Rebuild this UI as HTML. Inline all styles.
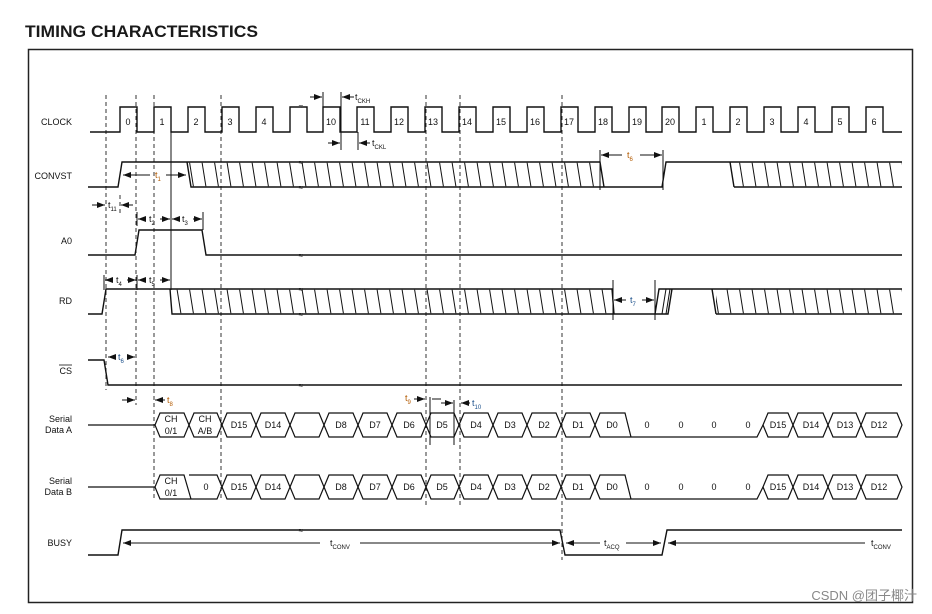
<!DOCTYPE html>
<html><head><meta charset="utf-8"><style>
html,body{margin:0;padding:0;background:#fff;}
svg{display:block;}
text{font-family:"Liberation Sans",Arial,sans-serif;fill:#111;}
</style></head><body>
<svg width="932" height="614" viewBox="0 0 932 614" xmlns="http://www.w3.org/2000/svg">
<defs>
<pattern id="hc" patternUnits="userSpaceOnUse" x="0" y="162" width="12.5" height="25"><line x1="2" y1="0" x2="6" y2="25" stroke="#111" stroke-width="1"/></pattern>
<pattern id="hr" patternUnits="userSpaceOnUse" x="0" y="289" width="12.5" height="25"><line x1="2" y1="0" x2="6" y2="25" stroke="#111" stroke-width="1"/></pattern>
<marker id="a" markerWidth="8" markerHeight="6" refX="8" refY="3" orient="auto"><path d="M0,0 L8,3 L0,6 z" fill="#111"/></marker>
</defs>
<text x="25" y="37" font-size="17" font-weight="bold" textLength="233" lengthAdjust="spacingAndGlyphs" style="fill:#1a1a1a">TIMING CHARACTERISTICS</text>
<rect x="28.5" y="49.5" width="884" height="553" fill="none" stroke="#222" stroke-width="1.5"/>

<g font-size="9" text-anchor="end">
<text x="72" y="125">CLOCK</text>
<text x="72" y="179">CONVST</text>
<text x="72" y="244">A0</text>
<text x="72" y="304">RD</text>
<text x="72" y="374">CS</text>
<line x1="59" y1="365" x2="72" y2="365" stroke="#111" stroke-width="0.8"/>
<text x="72" y="422">Serial</text><text x="72" y="433">Data A</text>
<text x="72" y="484">Serial</text><text x="72" y="495">Data B</text>
<text x="72" y="546">BUSY</text>
</g>

<g stroke="#333" stroke-width="1" stroke-dasharray="4,3">
<line x1="106" y1="95" x2="106" y2="390"/>
<line x1="136" y1="95" x2="136" y2="405"/>
<line x1="154" y1="95" x2="154" y2="500"/>
<line x1="221" y1="95" x2="221" y2="500"/>
<line x1="426" y1="95" x2="426" y2="505"/>
<line x1="460" y1="95" x2="460" y2="505"/>
<line x1="562" y1="95" x2="562" y2="560"/>
<line x1="120" y1="195" x2="120" y2="215"/>
</g>
<line x1="171" y1="120" x2="171" y2="290" stroke="#111"/>

<rect x="187" y="162.7" width="413" height="23.6" fill="url(#hc)"/>
<rect x="734" y="162.7" width="168" height="23.6" fill="url(#hc)"/>
<rect x="172" y="289.7" width="440" height="23.6" fill="url(#hr)"/>
<rect x="716" y="289.7" width="186" height="23.6" fill="url(#hr)"/>

<g fill="none" stroke="#111" stroke-width="1.4">
<path d="M90,132 H120 V107 H137 V132 H154 V107 H171 V132 H188 V107 H205 V132 H222 V107 H239 V132 H256 V107 H273 V132 H290 V107 H307 V132 H323 V107 H340 V132 H357 V107 H374 V132 H391 V107 H408 V132 H425 V107 H442 V132 H459 V107 H476 V132 H493 V107 H510 V132 H527 V107 H544 V132 H561 V107 H578 V132 H595 V107 H612 V132 H629 V107 H646 V132 H662 V107 H679 V132 H696 V107 H713 V132 H730 V107 H747 V132 H764 V107 H781 V132 H798 V107 H815 V132 H832 V107 H849 V132 H866 V107 H883 V132 H902"/>
<path d="M88,187 H118 L122,162 H600 L604,187 H191 L187,162 M604,187 H662 L666,162 H902 M734,187 H902 M730,162 L734,187"/>
<path d="M88,255 H135 L139,230 H202 L206,255 H902"/>
<path d="M88,314 H102 L106,289 H612 L614,314 H172 L170,289 M614,314 H655 L659,289 H902 M716,314 H902 M712,289 L716,314 M655,314 H668 L672,289"/>
<path d="M88,360 H104 L108,385 H902"/>
<path d="M88,555 H118 L122,530 H560 L565,555 H662 L667,530 H902"/>
</g>
<line x1="662" y1="314" x2="666" y2="289" stroke="#111"/>
<line x1="666" y1="314" x2="670" y2="289" stroke="#111"/>

<g font-size="9" text-anchor="middle">
<text x="128" y="125">0</text><text x="162" y="125">1</text><text x="196" y="125">2</text><text x="230" y="125">3</text><text x="264" y="125">4</text>
<text x="331" y="125">10</text><text x="365" y="125">11</text><text x="399" y="125">12</text><text x="433" y="125">13</text><text x="467" y="125">14</text><text x="501" y="125">15</text><text x="535" y="125">16</text><text x="569" y="125">17</text><text x="603" y="125">18</text><text x="637" y="125">19</text><text x="670" y="125">20</text><text x="704" y="125">1</text><text x="738" y="125">2</text><text x="772" y="125">3</text><text x="806" y="125">4</text><text x="840" y="125">5</text><text x="874" y="125">6</text>
</g>

<g fill="none" stroke="#111" stroke-width="1.2">
<path d="M88,425 H155"/>
<path d="M155,425 L160,413 H184 L189,425 L184,437 H160 Z"/>
<path d="M189,425 L194,413 H217 L222,425 L217,437 H194 Z"/>
<path d="M222,425 L227,413 H251 L256,425 L251,437 H227 Z"/>
<path d="M256,425 L261,413 H285 L290,425 L285,437 H261 Z"/>
<path d="M290,425 L295,413 H319 L324,425 L319,437 H295 Z"/>
<path d="M324,425 L329,413 H353 L358,425 L353,437 H329 Z"/>
<path d="M358,425 L363,413 H387 L392,425 L387,437 H363 Z"/>
<path d="M392,425 L397,413 H421 L426,425 L421,437 H397 Z"/>
<path d="M426,425 L431,413 H454 L459,425 L454,437 H431 Z"/>
<path d="M459,425 L464,413 H488 L493,425 L488,437 H464 Z"/>
<path d="M493,425 L498,413 H522 L527,425 L522,437 H498 Z"/>
<path d="M527,425 L532,413 H556 L561,425 L556,437 H532 Z"/>
<path d="M561,425 L566,413 H590 L595,425 L590,437 H566 Z"/>
<path d="M595,425 L600,413 H625 L631,437 H757 L763,425 M595,425 L600,437 H631"/>
<path d="M763,425 L768,413 H788 L793,425 L788,437 H768 Z"/>
<path d="M793,425 L798,413 H823 L828,425 L823,437 H798 Z"/>
<path d="M828,425 L833,413 H856 L861,425 L856,437 H833 Z"/>
<path d="M861,425 L866,413 H897 L902,425 L897,437 H866 Z"/>

<path d="M88,487 H155"/>
<path d="M155,487 L160,475 H184 L191,499 H217 L222,487 L217,475 H189 M155,487 L160,499 H191"/>
<path d="M222,487 L227,475 H251 L256,487 L251,499 H227 Z"/>
<path d="M256,487 L261,475 H285 L290,487 L285,499 H261 Z"/>
<path d="M290,487 L295,475 H319 L324,487 L319,499 H295 Z"/>
<path d="M324,487 L329,475 H353 L358,487 L353,499 H329 Z"/>
<path d="M358,487 L363,475 H387 L392,487 L387,499 H363 Z"/>
<path d="M392,487 L397,475 H421 L426,487 L421,499 H397 Z"/>
<path d="M426,487 L431,475 H454 L459,487 L454,499 H431 Z"/>
<path d="M459,487 L464,475 H488 L493,487 L488,499 H464 Z"/>
<path d="M493,487 L498,475 H522 L527,487 L522,499 H498 Z"/>
<path d="M527,487 L532,475 H556 L561,487 L556,499 H532 Z"/>
<path d="M561,487 L566,475 H590 L595,487 L590,499 H566 Z"/>
<path d="M595,487 L600,475 H625 L631,499 H757 L763,487 M595,487 L600,499 H631"/>
<path d="M763,487 L768,475 H788 L793,487 L788,499 H768 Z"/>
<path d="M793,487 L798,475 H823 L828,487 L823,499 H798 Z"/>
<path d="M828,487 L833,475 H856 L861,487 L856,499 H833 Z"/>
<path d="M861,487 L866,475 H897 L902,487 L897,499 H866 Z"/>
</g>
<rect x="296" y="414" width="22" height="22" fill="#fff"/>
<rect x="296" y="476" width="22" height="22" fill="#fff"/>
<g font-size="9" text-anchor="middle">
<text x="171" y="422">CH</text><text x="171" y="434">0/1</text>
<text x="205" y="422">CH</text><text x="205" y="434">A/B</text>
<text x="239" y="428">D15</text><text x="273" y="428">D14</text><text x="341" y="428">D8</text><text x="375" y="428">D7</text><text x="409" y="428">D6</text><text x="442" y="428">D5</text><text x="476" y="428">D4</text><text x="510" y="428">D3</text><text x="544" y="428">D2</text><text x="578" y="428">D1</text><text x="612" y="428">D0</text>
<text x="647" y="428">0</text><text x="681" y="428">0</text><text x="714" y="428">0</text><text x="748" y="428">0</text>
<text x="778" y="428">D15</text><text x="811" y="428">D14</text><text x="845" y="428">D13</text><text x="879" y="428">D12</text>
<text x="171" y="484">CH</text><text x="171" y="496">0/1</text><text x="206" y="490">0</text>
<text x="239" y="490">D15</text><text x="273" y="490">D14</text><text x="341" y="490">D8</text><text x="375" y="490">D7</text><text x="409" y="490">D6</text><text x="442" y="490">D5</text><text x="476" y="490">D4</text><text x="510" y="490">D3</text><text x="544" y="490">D2</text><text x="578" y="490">D1</text><text x="612" y="490">D0</text>
<text x="647" y="490">0</text><text x="681" y="490">0</text><text x="714" y="490">0</text><text x="748" y="490">0</text>
<text x="778" y="490">D15</text><text x="811" y="490">D14</text><text x="845" y="490">D13</text><text x="879" y="490">D12</text>
</g>

<g stroke="#111" stroke-width="1" fill="none">
<line x1="323" y1="92" x2="323" y2="107"/><line x1="341" y1="92" x2="341" y2="150"/><line x1="358" y1="132" x2="358" y2="150"/>
<line x1="310" y1="97" x2="322" y2="97" marker-end="url(#a)"/>
<line x1="354" y1="97" x2="342" y2="97" marker-end="url(#a)"/>
<line x1="328" y1="143" x2="340" y2="143" marker-end="url(#a)"/>
<line x1="370" y1="143" x2="359" y2="143" marker-end="url(#a)"/>
<line x1="150" y1="175" x2="123" y2="175" marker-end="url(#a)"/>
<line x1="166" y1="175" x2="186" y2="175" marker-end="url(#a)"/>
<line x1="92" y1="205" x2="105" y2="205" marker-end="url(#a)"/>
<line x1="133" y1="205" x2="121" y2="205" marker-end="url(#a)"/>
<line x1="137" y1="212" x2="137" y2="226"/><line x1="203" y1="212" x2="203" y2="230"/>
<line x1="146" y1="219" x2="138" y2="219" marker-end="url(#a)"/>
<line x1="160" y1="219" x2="170" y2="219" marker-end="url(#a)"/>
<line x1="180" y1="219" x2="172" y2="219" marker-end="url(#a)"/>
<line x1="193" y1="219" x2="202" y2="219" marker-end="url(#a)"/>
<line x1="104" y1="275" x2="104" y2="290"/><line x1="137" y1="275" x2="137" y2="290"/>
<line x1="113" y1="280" x2="105" y2="280" marker-end="url(#a)"/>
<line x1="127" y1="280" x2="136" y2="280" marker-end="url(#a)"/>
<line x1="146" y1="280" x2="138" y2="280" marker-end="url(#a)"/>
<line x1="160" y1="280" x2="170" y2="280" marker-end="url(#a)"/>
<line x1="115" y1="357" x2="108" y2="357" marker-end="url(#a)"/>
<line x1="128" y1="357" x2="135" y2="357" marker-end="url(#a)"/>
<line x1="122" y1="400" x2="135" y2="400" marker-end="url(#a)"/>
<line x1="165" y1="400" x2="155" y2="400" marker-end="url(#a)"/>
<line x1="430" y1="397" x2="430" y2="445"/><line x1="454" y1="400" x2="454" y2="445"/>
<line x1="414" y1="399" x2="425" y2="399" marker-end="url(#a)"/>
<line x1="432" y1="399" x2="441" y2="399"/>
<line x1="441" y1="403" x2="453" y2="403" marker-end="url(#a)"/>
<line x1="470" y1="403" x2="461" y2="403" marker-end="url(#a)"/>
<line x1="600" y1="150" x2="600" y2="190"/><line x1="663" y1="150" x2="663" y2="190"/>
<line x1="622" y1="155" x2="601" y2="155" marker-end="url(#a)"/>
<line x1="640" y1="155" x2="662" y2="155" marker-end="url(#a)"/>
<line x1="613" y1="280" x2="613" y2="320"/><line x1="655" y1="280" x2="655" y2="320"/>
<line x1="626" y1="300" x2="614" y2="300" marker-end="url(#a)"/>
<line x1="642" y1="300" x2="654" y2="300" marker-end="url(#a)"/>
<line x1="320" y1="543" x2="123" y2="543" marker-end="url(#a)"/>
<line x1="360" y1="543" x2="560" y2="543" marker-end="url(#a)"/>
<line x1="600" y1="543" x2="566" y2="543" marker-end="url(#a)"/>
<line x1="626" y1="543" x2="661" y2="543" marker-end="url(#a)"/>
<line x1="865" y1="543" x2="668" y2="543" marker-end="url(#a)"/>
</g>
<g font-size="9">
<text x="355" y="100">t<tspan font-size="6" dy="3">CKH</tspan></text>
<text x="372" y="146">t<tspan font-size="6" dy="3">CKL</tspan></text>
<text x="155" y="178" style="fill:#b35a00">t<tspan font-size="6" dy="3">1</tspan></text>
<text x="108" y="208">t<tspan font-size="6" dy="3">11</tspan></text>
<text x="149" y="222">t<tspan font-size="6" dy="3">2</tspan></text>
<text x="182" y="222">t<tspan font-size="6" dy="3">3</tspan></text>
<text x="116" y="283">t<tspan font-size="6" dy="3">4</tspan></text>
<text x="149" y="283">t<tspan font-size="6" dy="3">5</tspan></text>
<text x="118" y="360" style="fill:#1a4f8a">t<tspan font-size="6" dy="3">6</tspan></text>
<text x="167" y="403" style="fill:#b35a00">t<tspan font-size="6" dy="3">8</tspan></text>
<text x="405" y="401" style="fill:#b35a00">t<tspan font-size="6" dy="3">9</tspan></text>
<text x="472" y="406" style="fill:#1a4f8a">t<tspan font-size="6" dy="3">10</tspan></text>
<text x="627" y="158" style="fill:#b35a00">t<tspan font-size="6" dy="3">6</tspan></text>
<text x="630" y="303" style="fill:#1a4f8a">t<tspan font-size="6" dy="3">7</tspan></text>
<text x="330" y="546">t<tspan font-size="6" dy="3">CONV</tspan></text>
<text x="604" y="546">t<tspan font-size="6" dy="3">ACQ</tspan></text>
<text x="871" y="546">t<tspan font-size="6" dy="3">CONV</tspan></text>
</g>
<g font-size="8" text-anchor="middle">
<text x="301" y="109">≈</text><text x="301" y="165">≈</text><text x="301" y="190">≈</text><text x="301" y="258">≈</text>
<text x="301" y="292">≈</text><text x="301" y="317">≈</text><text x="301" y="388">≈</text><text x="301" y="533">≈</text>
</g>
<text x="917" y="600" font-size="13" text-anchor="end" style="fill:#888;font-family:'Liberation Sans','Noto Sans CJK SC',sans-serif">CSDN @团子椰汁</text>
</svg>
</body></html>
